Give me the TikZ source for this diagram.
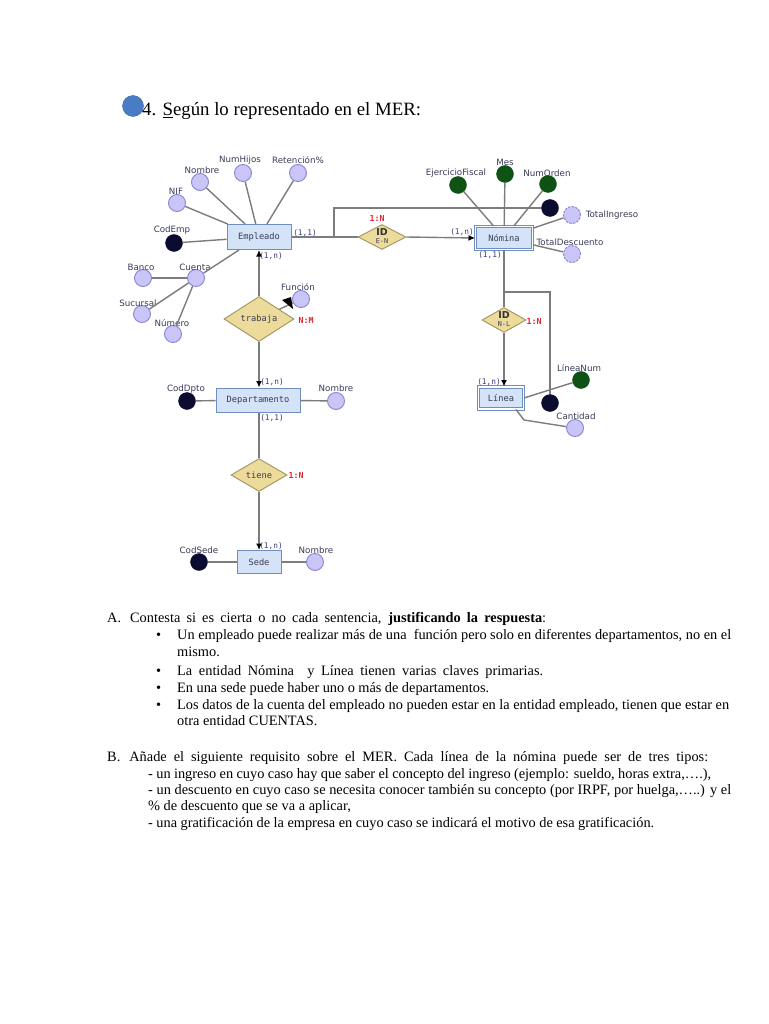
\documentclass[tikz,border=0pt]{standalone}
\usepackage{fontspec}
\setmainfont{Liberation Serif}
\newfontfamily\dv{DejaVu Sans}
\newfontfamily\dvm{DejaVu Sans Mono}
\usetikzlibrary{shapes.geometric,arrows.meta}
\definecolor{entf}{HTML}{D4E3F7}
\definecolor{entb}{HTML}{6E8EC0}
\definecolor{attrf}{HTML}{C9C5F6}
\definecolor{attrb}{HTML}{8A84D4}
\definecolor{keyc}{HTML}{0C0C30}
\definecolor{grn}{HTML}{0E5214}
\definecolor{relf}{HTML}{EDDB9C}
\definecolor{relb}{HTML}{A8996A}
\definecolor{lnc}{HTML}{7C7C7C}
\definecolor{lbl}{HTML}{3A3A58}
\definecolor{card}{HTML}{3B3B7A}
\definecolor{redc}{HTML}{E3262F}
\definecolor{ttl}{HTML}{4A7CC6}
\newcommand{\fitline}[2]{\makebox[#1pt][s]{#2}}
\begin{document}
\begin{tikzpicture}[x=1pt,y=-1pt,
  ln/.style={draw=lnc, line width=1.4pt},
  arr/.style={ln, -{Latex[length=6.5pt,width=6pt,color=black]}},
  ent/.style={rectangle, draw=entb, fill=entf, line width=1pt, font=\dvm\fontsize{8.7}{9}\selectfont, text=lbl, inner sep=1pt},
  went/.style={ent, double=white, double distance=1.6pt},
  attr/.style={circle, draw=attrb, fill=attrf, minimum size=17pt, inner sep=0pt, line width=0.9pt},
  dattr/.style={attr, dash pattern=on 2.5pt off 1.2pt},
  keyat/.style={circle, draw=keyc, fill=keyc, minimum size=17pt, inner sep=0pt},
  gkey/.style={circle, draw=grn, fill=grn, minimum size=17pt, inner sep=0pt},
  rel/.style={diamond, draw=relb, fill=relf, line width=1pt, inner sep=0pt, font=\dvm\fontsize{8.7}{9}\selectfont, text=lbl},
  lab/.style={font=\dv\fontsize{8.7}{9}\selectfont, text=lbl, inner sep=0pt},
  crd/.style={font=\dvm\fontsize{7.8}{8}\selectfont, text=card, inner sep=0pt},
  rcd/.style={font=\dvm\bfseries\fontsize{8.3}{8}\selectfont, text=redc, inner sep=0pt},
  txt/.style={anchor=base west, inner sep=0pt, font=\fontsize{14.35}{16}\selectfont}
]
\useasboundingbox[fill=white] (0,0) rectangle (768,1024);

% title
\node[circle, fill=ttl, draw=ttl!80!black, minimum size=21pt, inner sep=0pt] (tc) at (133,106) {};
\node[anchor=base west, inner sep=0pt, font=\fontsize{18.8}{20}\selectfont] (title) at (142,116) {4. \underline{S}egún lo representado en el MER:};

% entities
\node[ent, minimum width=64pt, minimum height=25pt] (emp) at (259,237) {Empleado};
\node[went, minimum width=57pt, minimum height=23pt] (nom) at (504,238) {Nómina};
\node[went, minimum width=45pt, minimum height=22pt] (lin) at (501,398) {Línea};
\node[ent, minimum width=84pt, minimum height=24pt] (dep) at (258,400) {Departamento};
\node[ent, minimum width=44pt, minimum height=23pt] (sede) at (259,562) {Sede};

% relationships
\node[rel, minimum width=70pt, minimum height=36pt] (trab) at (259,319) {trabaja};
\node[rel, minimum width=48pt, minimum height=25pt] (en) at (382,237) {};
\node[rel, minimum width=44pt, minimum height=25pt] (nl) at (504,320) {};
\node[rel, minimum width=56pt, minimum height=30pt] (tiene) at (259,475) {tiene};
\node[font=\dv\bfseries\fontsize{9.5}{9}\selectfont, text=black!80, inner sep=0pt] (enid) at (382,232) {ID};
\node[font=\dvm\fontsize{6.8}{7}\selectfont, text=lbl, inner sep=0pt] (enname) at (382,241) {E-N};
\node[font=\dv\bfseries\fontsize{9.5}{9}\selectfont, text=black!80, inner sep=0pt] (nlid) at (504,315) {ID};
\node[font=\dvm\fontsize{6.8}{7}\selectfont, text=lbl, inner sep=0pt] (nlname) at (504,324) {N-L};

% attributes
\node[attr] (nombre) at (200,182) {};
\node[attr] (numhijos) at (243,173) {};
\node[attr] (reten) at (298,173) {};
\node[attr] (nif) at (177,203) {};
\node[keyat] (codemp) at (174,243) {};
\node[attr] (cuenta) at (196,278) {};
\node[attr] (banco) at (143,278) {};
\node[attr] (sucursal) at (142,314) {};
\node[attr] (numero) at (173,334) {};
\node[attr] (funcion) at (301,299) {};
\node[keyat] (coddpto) at (187,401) {};
\node[attr] (nombredep) at (336,401) {};
\node[keyat] (codsede) at (199,562) {};
\node[attr] (nombresede) at (315,562) {};
\node[gkey] (ejer) at (458,185) {};
\node[gkey] (mes) at (505,174) {};
\node[gkey] (numorden) at (548,184) {};
\node[keyat] (nk) at (550,208) {};
\node[dattr] (ting) at (572,215) {};
\node[dattr] (tdesc) at (572,254) {};
\node[gkey] (lnum) at (581,380) {};
\node[keyat] (lk) at (550,403) {};
\node[attr] (cant) at (575,428) {};

% attribute labels
\node[lab] (lnombre) at (202,170) {Nombre};
\node[lab] (lnumhijos) at (240,160) {NumHijos};
\node[lab] (lreten) at (298,160) {Retención\%};
\node[lab] (lnif) at (176,191) {NIF};
\node[lab] (lcodemp) at (172,230) {CodEmp};
\node[lab] (lbanco) at (141,267) {Banco};
\node[lab] (lcuenta) at (195,267) {Cuenta};
\node[lab] (lsucursal) at (138,303) {Sucursal};
\node[lab] (lnumero) at (172,323) {Número};
\node[lab] (lfuncion) at (298,287) {Función};
\node[lab] (lcoddpto) at (186,389) {CodDpto};
\node[lab] (lnombredep) at (336,388) {Nombre};
\node[lab] (lcodsede) at (199,550) {CodSede};
\node[lab] (lnombresede) at (316,550) {Nombre};
\node[lab] (lejer) at (456,173) {EjercicioFiscal};
\node[lab] (lmes) at (505,162) {Mes};
\node[lab] (lnumorden) at (547,173) {NumOrden};
\node[lab] (lting) at (612,215) {TotalIngreso};
\node[lab] (ltdesc) at (570,242) {TotalDescuento};
\node[lab] (llnum) at (579,368) {LíneaNum};
\node[lab] (lcant) at (576,416) {Cantidad};

% connectors: attributes
\draw[ln] (nombre) -- (emp);
\draw[ln] (numhijos) -- (emp);
\draw[ln] (reten) -- (emp);
\draw[ln] (nif) -- (emp);
\draw[ln] (codemp) -- (emp);
\draw[ln] (cuenta) -- (emp);
\draw[ln] (banco) -- (cuenta);
\draw[ln] (sucursal) -- (cuenta);
\draw[ln] (numero) -- (cuenta);
\draw[ln] (funcion) -- (trab);
\draw[ln] (coddpto) -- (dep);
\draw[ln] (nombredep) -- (dep);
\draw[ln] (codsede) -- (sede);
\draw[ln] (nombresede) -- (sede);
\draw[ln] (ejer) -- (nom);
\draw[ln] (mes) -- (nom);
\draw[ln] (numorden) -- (nom);
\draw[ln] (ting) -- (nom);
\draw[ln] (tdesc) -- (nom);
\draw[ln] (lnum) -- (lin.east);
\coordinate (cj) at (524,420);
\draw[ln] ([xshift=-8pt]lin.south east) -- (cj) -- (cant);

% connectors: relationships
\coordinate (j1) at (334,237);
\coordinate (j2) at (504,292);
\draw[ln] (emp.east) -- (en.west);
\draw[ln] (j1) |- (nk.west);
\draw[arr] (en.east) -- (nom.west);
\draw[ln] (nom.south) -- (nl.north);
\draw[ln] (j2) -| (lk.north);
\draw[arr] (nl.south) -- (nl.south |- lin.north);
\draw[arr] (trab.north) -- (emp.south);
\draw[arr] (trab.south) -- (trab.south |- dep.north);
\draw[ln] (tiene.north |- dep.south) -- (tiene.north);
\draw[arr] (tiene.south) -- (sede.north);

% black pointer mark near Funcion
\fill[black] (282,300) -- (291,297) -- (293,309) -- cycle;

% cardinalities
\node[crd] (c1) at (305,233) {(1,1)};
\node[crd] (c2) at (271,256) {(1,n)};
\node[crd] (c3) at (462,232) {(1,n)};
\node[crd] (c4) at (490,255) {(1,1)};
\node[crd] (c5) at (489,382) {(1,n)};
\node[crd] (c6) at (272,382) {(1,n)};
\node[crd] (c7) at (272,418) {(1,1)};
\node[crd] (c8) at (271,546) {(1,n)};
\node[rcd] (r1) at (377,218) {1:N};
\node[rcd] (r2) at (306,320) {N:M};
\node[rcd] (r3) at (534,321) {1:N};
\node[rcd] (r4) at (296,475) {1:N};

% question text
\node[txt] (qa) at (107,622) {\fitline{439}{A.\hspace{9pt}Contesta si es cierta o no cada sentencia, \textbf{justificando la respuesta}:}};
\node[txt] (b1) at (156,639) {•};
\node[txt] (a1) at (177,639) {\fitline{554}{Un empleado puede realizar más de una\ \ función pero solo en diferentes departamentos, no en el}};
\node[txt] (a1b) at (177,656) {mismo.};
\node[txt] (b2) at (156,675) {•};
\node[txt] (a2) at (177,675) {\fitline{366}{La entidad Nómina\ \ y Línea tienen varias claves primarias.}};
\node[txt] (b3) at (156,692) {•};
\node[txt] (a3) at (177,692) {\fitline{312}{En una sede puede haber uno o más de departamentos.}};
\node[txt] (b4) at (156,709) {•};
\node[txt] (a4) at (177,709) {\fitline{552}{Los datos de la cuenta del empleado no pueden estar en la entidad empleado, tienen que estar en}};
\node[txt] (a4b) at (177,725) {otra entidad CUENTAS.};

\node[txt] (qb) at (107,761) {\fitline{601}{B.\hspace{9pt}Añade el siguiente requisito sobre el MER. Cada línea de la nómina puede ser de tres tipos:}};
\node[txt] (bb1) at (148,778) {\fitline{563}{- un ingreso en cuyo caso hay que saber el concepto del ingreso (ejemplo: sueldo, horas extra,….),}};
\node[txt] (bb2) at (148,794) {\fitline{583}{- un descuento en cuyo caso se necesita conocer también su concepto (por IRPF, por huelga,…..) y el}};
\node[txt] (bb2b) at (148,810) {\% de descuento que se va a aplicar,};
\node[txt] (bb3) at (148,827) {\fitline{506}{- una gratificación de la empresa en cuyo caso se indicará el motivo de esa gratificación.}};
\end{tikzpicture}
\end{document}
